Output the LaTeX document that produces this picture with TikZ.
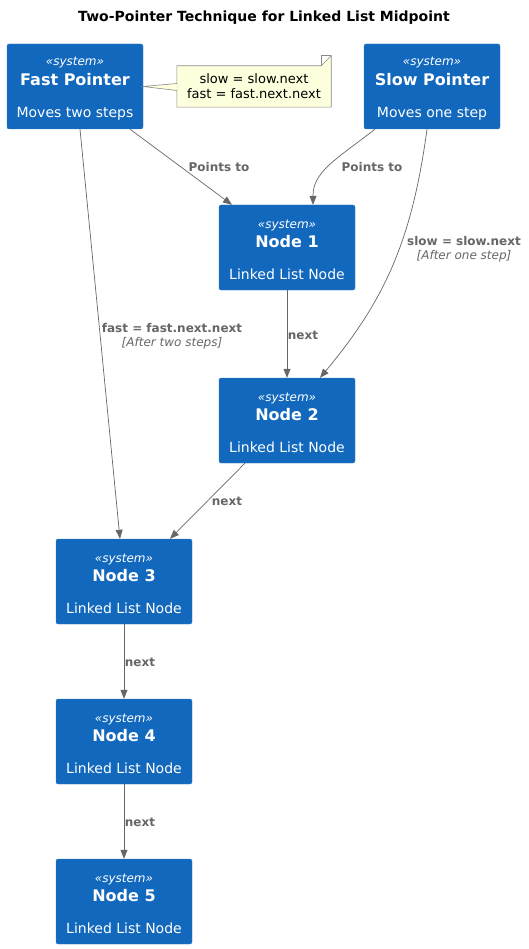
\documentclass[tikz,border=0pt]{standalone}
\usepackage{fontspec}
\setmainfont{DejaVu Sans}
\usetikzlibrary{arrows.meta}

\definecolor{sysfill}{HTML}{1168BD}
\definecolor{sysline}{HTML}{3C7FC0}
\definecolor{linkgray}{HTML}{666666}
\definecolor{notefill}{HTML}{FEFFDD}
\definecolor{noteline}{HTML}{8A8A8A}

\newcommand{\sysbox}[2]{{\fontsize{12}{14}\selectfont\itshape\rule{0pt}{13pt}«system»}\\[4pt]{\fontsize{16}{19}\selectfont\bfseries #1}\\[20pt]{\fontsize{14}{17}\selectfont #2}}

\begin{document}
\begin{tikzpicture}[x=1pt, y=-1pt, align=center,
  system/.style={fill=sysfill, draw=sysline, rounded corners=2pt, text=white,
    minimum width=136pt, minimum height=85pt, inner sep=0pt},
  link/.style={draw=linkgray, line width=0.7pt, -{Triangle[length=9pt,width=7pt]}},
  lbl/.style={text=linkgray, font=\fontsize{12}{14}\selectfont\bfseries},
  cond/.style={text=linkgray, font=\fontsize{12}{14}\selectfont\itshape}]

\useasboundingbox (0,0) rectangle (528,949);

\node[font=\fontsize{14}{17}\selectfont\bfseries] (title) at (264,18) {Two-Pointer Technique for Linked List Midpoint};

\node[system] (fast) at (75,86.5) {\sysbox{Fast Pointer}{Moves two steps}};
\node[system] (slow) at (432,86.5) {\sysbox{Slow Pointer}{Moves one step}};
\node[system] (n1) at (287,247.5) {\sysbox{Node 1}{Linked List Node}};
\node[system] (n2) at (287,420.5) {\sysbox{Node 2}{Linked List Node}};
\node[system] (n3) at (124,581.5) {\sysbox{Node 3}{Linked List Node}};
\node[system] (n4) at (124,741.5) {\sysbox{Node 4}{Linked List Node}};
\node[system] (n5) at (124,901.5) {\sysbox{Node 5}{Linked List Node}};

% note with folded corner
\node[minimum width=154pt, minimum height=41pt, font=\fontsize{13}{15}\selectfont] (note) at (254,86.5) {slow = slow.next\\fast = fast.next.next};
\filldraw[fill=notefill, draw=noteline, line width=0.6pt] (note.south west) -- (note.north west) -- ([xshift=-10pt]note.north east) -- ([yshift=10pt]note.north east) -- (note.south east) -- cycle;
\draw[noteline, line width=0.6pt] ([xshift=-10pt]note.north east) -- ([xshift=-10pt,yshift=10pt]note.north east) -- ([yshift=10pt]note.north east);
\filldraw[fill=notefill, draw=noteline, line width=0.6pt] ([yshift=-4pt]note.west) -- (fast.east) -- ([yshift=3pt]note.west);
\node[font=\fontsize{13}{15}\selectfont] (notetext) at (note.center) {slow = slow.next\\fast = fast.next.next};

% pointers
\draw[link] ([xshift=55pt]fast.south) -- ([xshift=-55pt]n1.north);
\draw[link] ([xshift=-57pt]slow.south) .. controls (335,160) and (313,172) .. ([xshift=26pt]n1.north);
\draw[link] ([xshift=-5pt]slow.south) .. controls (412,240) and (385,300) .. ([xshift=33pt]n2.north);
\draw[link] ([xshift=5pt]fast.south) -- ([xshift=-4pt]n3.north);

% list links
\draw[link] (n1) -- (n2);
\draw[link] ([xshift=-42pt]n2.south) -- ([xshift=46pt]n3.north);
\draw[link] (n3) -- (n4);
\draw[link] (n4) -- (n5);

% labels
\node[lbl] (pfast) at (219,167) {Points to};
\node[lbl] (pslow) at (372,167) {Points to};
\node[lbl] (stepslow) at (464,241) {slow = slow.next};
\node[cond] (condslow) at (464,256) {[After one step]};
\node[lbl] (stepfast) at (172,328) {fast = fast.next.next};
\node[cond] (condfast) at (172,343) {[After two steps]};
\node[lbl] (next12) at (303,335) {next};
\node[lbl] (next23) at (227,501) {next};
\node[lbl] (next34) at (140,662) {next};
\node[lbl] (next45) at (140,822) {next};

\end{tikzpicture}
\end{document}
